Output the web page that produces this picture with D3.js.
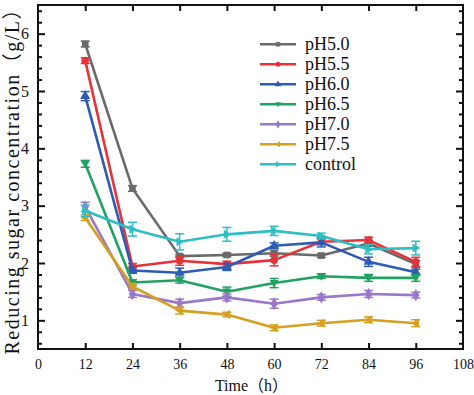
<!DOCTYPE html>
<html><head><meta charset="utf-8">
<script src="https://cdn.jsdelivr.net/npm/d3@7"></script>
<style>body{margin:0;background:#fff}svg text{font-family:"Liberation Serif","Noto Sans CJK SC",serif;fill:#111}</style>
</head><body><svg id="c" width="474" height="395"></svg>
<script>
const times = [12, 24, 36, 48, 60, 72, 84, 96];
const seriesNames = ["pH5.0", "pH5.5", "pH6.0", "pH6.5", "pH7.0", "pH7.5", "control"];
const pH50 = [5.82, 3.30, 2.12, 2.14, 2.17, 2.13, 2.34, 1.98];
const pH55 = [5.53, 1.94, 2.04, 1.98, 2.05, 2.37, 2.40, 2.02];
const pH60 = [4.91, 1.87, 1.83, 1.93, 2.30, 2.36, 2.02, 1.84];
const pH65 = [3.73, 1.66, 1.70, 1.50, 1.65, 1.77, 1.74, 1.74];
const pH70 = [2.98, 1.46, 1.30, 1.40, 1.29, 1.40, 1.46, 1.44];
const pH75 = [2.79, 1.59, 1.17, 1.10, 0.87, 0.95, 1.01, 0.95];
const control = [2.91, 2.59, 2.37, 2.50, 2.56, 2.47, 2.24, 2.26];
const err50 = [0.05, 0.05, 0.03, 0.03, 0.05, 0.03, 0.05, 0.06];
const err55 = [0.05, 0.05, 0.08, 0.05, 0.10, 0.05, 0.05, 0.08];
const err60 = [0.08, 0.05, 0.08, 0.06, 0.05, 0.08, 0.08, 0.05];
const err65 = [0.06, 0.05, 0.05, 0.08, 0.08, 0.04, 0.06, 0.06];
const err70 = [0.08, 0.06, 0.07, 0.06, 0.08, 0.05, 0.06, 0.05];
const err75 = [0.05, 0.05, 0.06, 0.04, 0.05, 0.05, 0.05, 0.06];
const errControl = [0.10, 0.12, 0.14, 0.12, 0.08, 0.05, 0.08, 0.12];
const xTicks = [0, 12, 24, 36, 48, 60, 72, 84, 96, 108];
const yTicks = [1, 2, 3, 4, 5, 6];
const xTitle = "Time（h）";
const yTitle = "Reducing sugar concentration（g/L）";

const colors = ["#6a6a6a", "#e8323a", "#2e5cb5", "#20a263", "#9b77c9", "#d4a021", "#2dbfc3"];
const symbols = [d3.symbolSquare, d3.symbolCircle, d3.symbolTriangle, "tridown", d3.symbolDiamond, "trileft", "triright"];
const values = [pH50, pH55, pH60, pH65, pH70, pH75, control];
const errs = [err50, err55, err60, err65, err70, err75, errControl];

const L = 38, R = 463, T = 5, B = 349;
const x = d3.scaleLinear().domain([0, 108]).range([L, R]);
const y = d3.scaleLinear().domain([0.5, 6.5]).range([B, T]);
const svg = d3.select("#c");

function marker(g, type, color, cx, cy, s) {
  if (typeof type === "string") {
    const r = s;
    let pts;
    if (type === "tridown") pts = [[-r, -r*0.7], [r, -r*0.7], [0, r]];
    if (type === "trileft") pts = [[r*0.7, -r], [r*0.7, r], [-r, 0]];
    if (type === "triright") pts = [[-r*0.7, -r], [-r*0.7, r], [r, 0]];
    g.append("path").attr("d", "M" + pts.map(p => p.join(",")).join("L") + "Z")
      .attr("transform", `translate(${cx},${cy})`).attr("fill", color);
  } else {
    g.append("path").attr("d", d3.symbol().type(type).size(s * s * 2.2)())
      .attr("transform", `translate(${cx},${cy})`).attr("fill", color);
  }
}

values.forEach((vals, si) => {
  const g = svg.append("g");
  const c = colors[si];
  vals.forEach((v, i) => {
    const e = errs[si][i], cx = x(times[i]);
    g.append("line").attr("x1", cx).attr("x2", cx).attr("y1", y(v - e)).attr("y2", y(v + e)).attr("stroke", c).attr("stroke-width", 1.5);
    [v - e, v + e].forEach(w => g.append("line").attr("x1", cx - 4.5).attr("x2", cx + 4.5).attr("y1", y(w)).attr("y2", y(w)).attr("stroke", c).attr("stroke-width", 1.5));
  });
  g.append("path").datum(vals).attr("fill", "none").attr("stroke", c).attr("stroke-width", 2.6)
    .attr("stroke-linejoin", "round")
    .attr("d", d3.line().x((d, i) => x(times[i])).y(d => y(d)));
  vals.forEach((v, i) => marker(g, symbols[si], c, x(times[i]), y(v), 4.5));
});

svg.append("rect").attr("x", L).attr("y", T).attr("width", R - L).attr("height", B - T)
  .attr("fill", "none").attr("stroke", "#111").attr("stroke-width", 2);

const axB = d3.axisBottom(x).tickValues(xTicks).tickSize(-6).tickPadding(10).tickFormat(d3.format("d"));
const gb = svg.append("g").attr("transform", `translate(0,${B})`).call(axB);
const axT = d3.axisTop(x).tickValues(xTicks).tickSize(-6).tickFormat("");
const gt = svg.append("g").attr("transform", `translate(0,${T})`).call(axT);
const minorY = d3.range(0.6, 6.5, 0.2).filter(v => Math.abs(v - Math.round(v)) > 0.01);
const axL = d3.axisLeft(y).tickValues(yTicks).tickSize(-7).tickPadding(9).tickFormat(d3.format("d"));
const gl = svg.append("g").attr("transform", `translate(${L},0)`).call(axL);
const gl2 = svg.append("g").attr("transform", `translate(${L},0)`).call(d3.axisLeft(y).tickValues(minorY).tickSize(-4).tickFormat(""));
const gr = svg.append("g").attr("transform", `translate(${R},0)`).call(d3.axisRight(y).tickValues(yTicks).tickSize(-7).tickFormat(""));
const gr2 = svg.append("g").attr("transform", `translate(${R},0)`).call(d3.axisRight(y).tickValues(minorY).tickSize(-4).tickFormat(""));
[gb, gt, gl, gl2, gr, gr2].forEach(g => {
  g.select(".domain").remove();
  g.selectAll(".tick line").attr("stroke", "#111").attr("stroke-width", 2);
  g.selectAll("text").style("font-size", "16px").attr("fill", "#111");
});
gb.selectAll(".tick line").filter(d => d === 0 || d === 108).remove();
gt.selectAll(".tick line").filter(d => d === 0 || d === 108).remove();
gb.selectAll("text").style("font-size", "14px");

svg.append("text").attr("x", (L + R) / 2 + 1).attr("y", 391).attr("text-anchor", "middle")
  .style("font-size", "16px").text(xTitle);
svg.append("text").attr("transform", `translate(19,${(T + B) / 2}) rotate(-90)`).attr("text-anchor", "middle")
  .attr("textLength", 355).attr("lengthAdjust", "spacing")
  .style("font-size", "20px").text(yTitle);

const lg = svg.append("g");
seriesNames.forEach((n, i) => {
  const yy = 44.3 + i * 20;
  lg.append("line").attr("x1", 260).attr("x2", 296).attr("y1", yy).attr("y2", yy).attr("stroke", colors[i]).attr("stroke-width", 2.6);
  marker(lg, symbols[i], colors[i], 278, yy, 3);
  lg.append("text").attr("x", 305).attr("y", yy + 6).style("font-size", "18px").text(n);
});
</script></body></html>
